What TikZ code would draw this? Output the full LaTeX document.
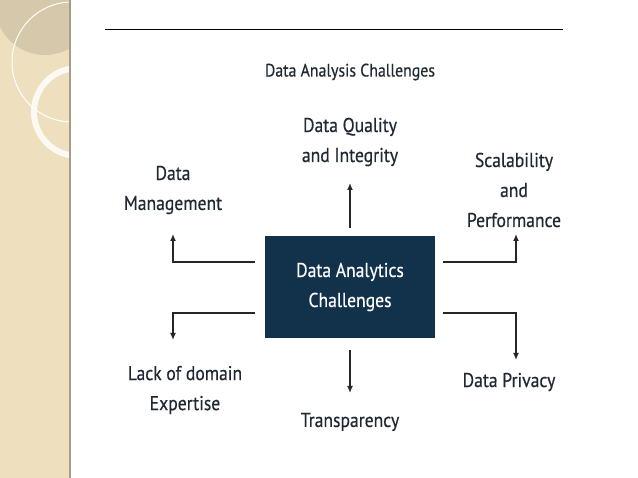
\documentclass[tikz,border=0pt]{standalone}
\usepackage{fontspec}
\usetikzlibrary{arrows.meta}
\setmainfont[FakeStretch=0.88,FakeBold=0.4]{PT Sans}
\definecolor{navy}{HTML}{12314A}
\definecolor{txt}{HTML}{1F2833}
\definecolor{beige}{HTML}{EEDFBE}
\begin{document}
\begin{tikzpicture}[x=1pt,y=-1pt,
  lbl/.style={text=txt,font=\fontsize{20}{30}\selectfont,align=center,inner sep=0},
  conn/.style={draw=black!85,line width=1.3pt,-{Latex[length=7pt,width=6pt]}}]
\useasboundingbox (0,0) rectangle (638,478);
\fill[white] (0,0) rectangle (638,478);
% left strip
\fill[beige] (0,0) rectangle (70,478);
\begin{scope}
\clip (0,0) rectangle (70,478);
\fill[black!10!beige] (45,5) circle (50);
\draw[white!80!beige,line width=6pt] (78,112) circle (44);
\draw[white,line width=1pt] (72,62) circle (60);
\end{scope}
\draw[black!30!beige,line width=1.2pt] (70,0) -- (70,478);
% top rule
\draw[black,line width=1pt] (105,30) -- (563,30);
\node[lbl,font=\fontsize{18}{22}\selectfont] (title) at (350,72) {Data Analysis Challenges};
% centre
\node[fill=navy,minimum width=170pt,minimum height=102pt,text=white,align=center,font=\fontsize{20}{30}\selectfont] (c) at (350,287) {Data Analytics\\Challenges};
\node[lbl] (dq) at (350,142) {Data Quality\\and Integrity};
\node[lbl] (dm) at (173,190) {Data\\Management};
\node[lbl] (sp) at (514,190) {Scalability\\and\\Performance};
\node[lbl] (ld) at (185,390) {Lack of domain\\Expertise};
\node[lbl] (tr) at (350,422) {Transparency};
\node[lbl] (pr) at (509,382) {Data Privacy};
\coordinate (a1) at (350,228);
\coordinate (a2) at (255,262);
\coordinate (a3) at (443,262);
\coordinate (a4) at (255,313);
\coordinate (a5) at (350,350);
\coordinate (a6) at (443,313);
\draw[conn] (a1) -- (350,183);
\draw[conn] (a2) -- (173,262) -- (173,234);
\draw[conn] (a3) -- (516,262) -- (516,234);
\draw[conn] (a4) -- (173,313) -- (173,340);
\draw[conn] (a5) -- (350,393);
\draw[conn] (a6) -- (516,313) -- (516,360);
\end{tikzpicture}
\end{document}
